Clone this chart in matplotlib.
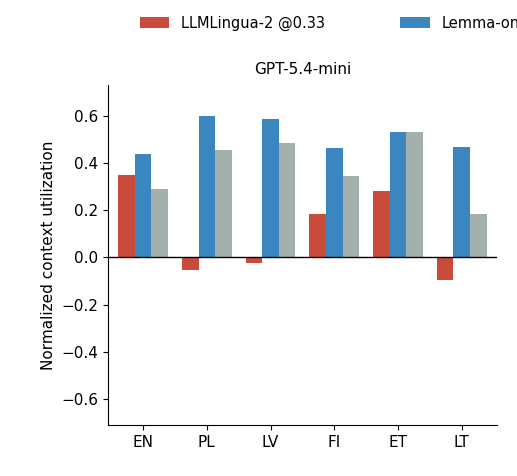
import matplotlib
matplotlib.use("Agg")
import matplotlib.pyplot as plt
import numpy as np

langs = ["EN", "PL", "LV", "FI", "ET", "LT"]
llml = [0.35, -0.055, -0.025, 0.185, 0.28, -0.095]
lemma = [0.44, 0.60, 0.585, 0.465, 0.53, 0.47]
third = [0.29, 0.455, 0.485, 0.345, 0.53, 0.185]
labels = ["LLMLingua-2 @0.33", "Lemma-only", "Lemma+POS"]
colors = ["#c84b3c", "#3a87c0", "#a3b0ae"]

fig = plt.figure(figsize=(5.17, 4.76), dpi=100)
ax = fig.add_axes([0.209, 0.107, 0.752, 0.714])
x = np.arange(len(langs))
w = 0.26
for i, (vals, lab, c) in enumerate(zip([llml, lemma, third], labels, colors)):
    ax.bar(x + (i - 1) * w, vals, w, color=c, label=lab)
ax.axhline(0, color="black", lw=1)
ax.set_xticks(x)
ax.set_xticklabels(langs, fontsize=11)
ax.set_ylim(-0.71, 0.73)
ax.set_yticks([-0.6, -0.4, -0.2, 0.0, 0.2, 0.4, 0.6])
ax.tick_params(labelsize=11)
ax.set_xlim(-0.55, 5.55)
ax.set_ylabel("Normalized context utilization", fontsize=11)
ax.set_title("GPT-5.4-mini", fontsize=11, pad=8)
for s in ["top", "right"]:
    ax.spines[s].set_visible(False)
h, l = ax.get_legend_handles_labels()
fig.legend(h, l, loc="upper left", bbox_to_anchor=(0.245, 0.995), ncol=3,
           frameon=False, fontsize=10.5, columnspacing=5.2)
fig.savefig("out.png", dpi=100)
